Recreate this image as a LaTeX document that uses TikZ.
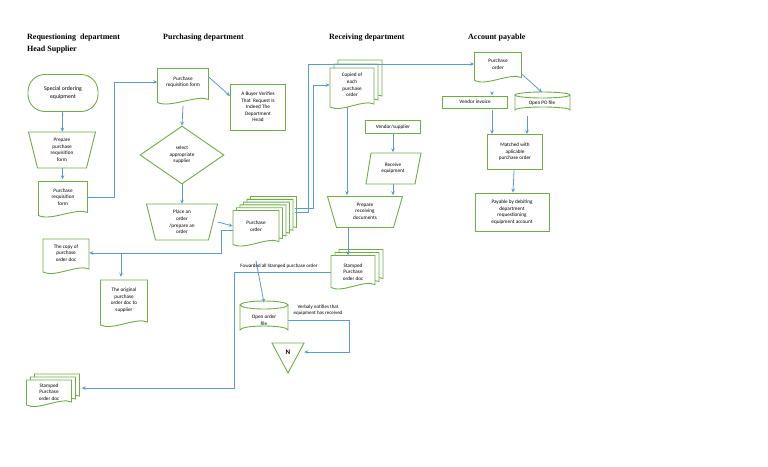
\documentclass[tikz,border=0pt]{standalone}
\usepackage{fontspec}
\setmainfont{Liberation Serif}
\newfontfamily\smfam{Carlito}
\usetikzlibrary{shapes.geometric,arrows.meta,calc}
\definecolor{gr}{HTML}{70AD47}
\definecolor{bl}{HTML}{5B9BD5}
\tikzset{
 gs/.style={draw=gr,line width=0.9pt,fill=white},
 txt/.style={inner sep=0pt,align=center,font=\smfam\fontsize{5.2}{6.6}\selectfont},
 ttl/.style={inner sep=0pt,anchor=west,align=left,font=\bfseries\fontsize{8}{10}\selectfont},
 ar/.style={draw=bl,line width=0.8pt,-{Stealth[length=4pt,width=3.5pt]}},
 lab/.style={inner sep=0pt,font=\smfam\fontsize{5}{6}\selectfont}
}
\newcommand\docshp[4]{\draw[gs] (#1-#3/2,#2-#4/2) -- (#1+#3/2,#2-#4/2) -- (#1+#3/2,#2+#4/2-4) .. controls (#1+#3/4,#2+#4/2-9) and (#1-#3/4,#2+#4/2+5) .. (#1-#3/2,#2+#4/2-1) -- cycle;}
\newcommand\trap[4]{\draw[gs] (#1-#3/2,#2-#4/2) -- (#1+#3/2,#2-#4/2) -- (#1+#3/2-9,#2+#4/2) -- (#1-#3/2+9,#2+#4/2) -- cycle;}
\begin{document}
\begin{tikzpicture}[x=1pt,y=-1pt]
\useasboundingbox[fill=white] (0,0) rectangle (768,466);
% titles
\node[ttl] (t1) at (27,38) {Requestioning\ \ department};
\node[ttl] (t1b) at (27,50) {Head Supplier};
\node[ttl] (t2) at (163,38) {Purchasing department};
\node[ttl] (t3) at (329,38) {Receiving department};
\node[ttl] (t4) at (468,38) {Account payable};
% requisitioning
\node[gs,txt,rounded corners=17pt,minimum width=70pt,minimum height=37pt,font=\smfam\fontsize{5.8}{7.4}\selectfont] (spec) at (63,93) {Special ordering\\equipment};
\trap{62}{150}{67}{36}
\node[txt,minimum width=67pt,minimum height=36pt] (prep) at (62,150) {Prepare\\purchase\\requisition\\form};
\docshp{63}{199}{49}{35}
\node[txt,minimum width=49pt,minimum height=35pt] (prf1) at (63,197) {Purchase\\requisition\\form};
% purchasing
\docshp{183}{86}{51}{35}
\node[txt,minimum width=51pt,minimum height=35pt] (prf2) at (183,82) {Purchase\\requisition form};
\node[gs,txt,minimum width=55pt,minimum height=46pt] (buyer) at (258,107) {A Buyer Verifies\\That\ \ Request Is\\Indeed The\\Department\\Head};
\node[gs,txt,diamond,minimum width=84pt,minimum height=58pt,inner sep=0pt] (sel) at (182,155) {select\\appropriate\\supplier};
\trap{182}{222}{71}{36}
\node[txt,minimum width=71pt,minimum height=36pt] (place) at (182,222) {Place an\\order\\/prepare an\\order};
\foreach \i in {5,4,...,1}{\docshp{256+3.5*\i}{228-2.8*\i}{46}{35}}
\docshp{256}{228}{46}{35}
\node[txt,minimum width=46pt,minimum height=35pt] (po) at (256,226) {Purchase\\order};
\docshp{66}{256}{46}{34}
\node[txt,minimum width=46pt,minimum height=34pt] (copy) at (66,253) {The copy of\\purchase\\order doc};
\docshp{124}{303}{47}{46}
\node[txt,minimum width=47pt,minimum height=46pt] (orig) at (124,300) {The original\\purchase\\order doc to\\supplier};
\draw[gs] (240,305) -- (240,330) arc[start angle=180,end angle=360,x radius=24,y radius=4] -- (288,305);
\draw[gs] (264,305) ellipse[x radius=24,y radius=4];
\node[txt,minimum width=48pt,minimum height=34pt] (oof) at (264,320) {Open order\\file};
\draw[gs] (272,343) -- (304,343) -- (288,373) -- cycle;
\node[txt,font=\smfam\bfseries\fontsize{7}{8}\selectfont,minimum width=32pt,minimum height=20pt] (N) at (288,352) {N};
\docshp{57}{387}{45}{26}
\docshp{53}{390}{45}{26}
\docshp{49}{393}{45}{26}
\node[txt,minimum width=45pt,minimum height=26pt] (st2) at (49,392) {Stamped\\Purchase\\order doc};
% receiving
\docshp{360}{80}{44}{40}
\docshp{356}{84}{44}{40}
\docshp{352}{88}{44}{40}
\node[txt,minimum width=44pt,minimum height=40pt] (cop) at (352,85) {Copied of\\each\\purchase\\order};
\node[gs,txt,minimum width=55pt,minimum height=13pt] (vend) at (393,127) {Vendor/supplier};
\draw[gs] (371,153) -- (421,153) -- (415,184) -- (366,184) -- cycle;
\node[txt,minimum width=55pt,minimum height=31pt] (rec) at (393,168) {Receive\\equipment};
\trap{365}{212}{75}{31}
\node[txt,minimum width=75pt,minimum height=31pt] (prd) at (365,211) {Prepare\\receiving\\documents};
\docshp{361}{266}{44}{33}
\docshp{357}{269}{44}{33}
\docshp{353}{272}{44}{33}
\node[txt,minimum width=44pt,minimum height=33pt] (st1) at (353,272) {Stamped\\Purchase\\order doc};
% account payable
\docshp{498}{67}{47}{29}
\node[txt,minimum width=47pt,minimum height=29pt] (po2) at (498,64) {Purchase\\order};
\node[gs,txt,minimum width=65pt,minimum height=12pt] (vinv) at (475,102) {Vendor invoice};
\draw[gs] (515,95) -- (515,110) arc[start angle=180,end angle=360,x radius=27.5,y radius=3] -- (570,95);
\draw[gs] (542.5,95) ellipse[x radius=27.5,y radius=3];
\node[txt,minimum width=55pt,minimum height=21pt] (opo) at (542,103) {Open PO file};
\node[gs,txt,minimum width=55pt,minimum height=35pt] (match) at (515,152) {Matched with\\aplicable\\purchase order};
\node[gs,txt,minimum width=74pt,minimum height=38pt] (pay) at (512,212) {Payable by debiting\\department\\requestioning\\equipment account};
% connectors
\draw[ar] (spec) -- (prep);
\draw[ar] (prep) -- (prf1);
\draw[ar] (prf1.east) -- ++(27,0) |- (prf2.west);
\draw[ar] ($(prf2.east)+(0,-5)$) -- ($(buyer.west)+(0,-11)$);
\draw[ar] ($(prf2.south)+(0,6)$) -- (sel.north);
\draw[ar] (sel.south) -- (place.north);
\draw[ar] (place.east) -- (po.west);
\draw[ar] ($(po.east)+(16,-14)$) -- ++(13,0) |- (po2.west);
\draw[ar] ($(po.east)+(16,-18)$) -- ++(18,0) |- (cop.west);
\draw[ar] ($(po.west)+(0,4)$) -- ++(-11,0) |- (copy.east);
\coordinate (br) at ($(orig.north)+(-3,-24)$);
\draw[ar] (br) -- ($(orig.north)+(-3,0)$);
\draw[ar] ($(po.south)+(0,17)$) -- (oof.north);
\draw[ar] ($(cop.south)+(-5,2)$) -- ($(prd.north)+(-18,0)$);
\draw[ar] (vend) -- (rec);
\draw[ar] (rec) -- ($(prd.north)+(28,0)$);
\draw[ar] ($(prd.south)+(-17,1)$) -- ($(st1.north)+(-5,0)$);
\draw[ar] (st1.west) -- ++(-96,0) |- ($(st2.east)+(10,-4)$);
\node[lab,anchor=south] (fw) at (279,269) {Fowarded all Stamped purchase order};
\draw[ar] (oof.east) -- ++(61,0) |- (N.east);
\node[lab,align=center] (vn) at (318,310) {Verbaly notifies that\\equipment has received};
\draw[ar] ($(po2.south)+(-6,14)$) -- ($(vinv.north)+(17,0)$);
\draw[ar] ($(po2.east)+(0,10)$) -- (opo.north);
\draw[ar] ($(vinv.south)+(17,2)$) -- ($(match.north)+(-23,0)$);
\draw[ar] ($(opo.south)+(-15,2)$) -- ($(match.north)+(12,0)$);
\draw[ar] (match) -- (pay);
\end{tikzpicture}
\end{document}
